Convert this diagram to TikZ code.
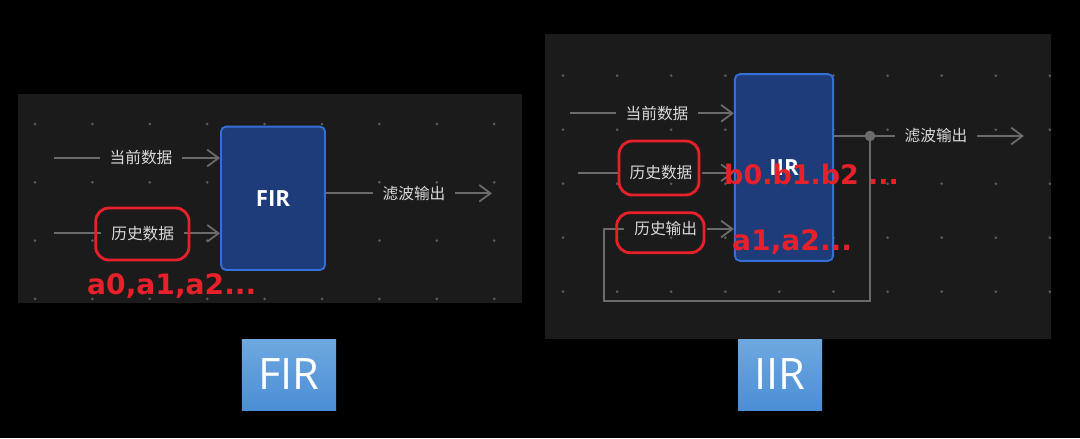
\documentclass[tikz,border=0pt]{standalone}
\usepackage{fontspec}
\setmainfont{Open Sans}
\newfontfamily\cjk{Noto Sans CJK SC}
\newfontfamily\redfont{DejaVu Sans}
\usetikzlibrary{arrows.meta}

\definecolor{panelbg}{HTML}{1B1B1B}
\definecolor{gridgray}{HTML}{5A5A5A}
\definecolor{wiregray}{HTML}{6B6B6B}
\definecolor{labelgray}{HTML}{DADADA}
\definecolor{filterfill}{HTML}{1F3C7A}
\definecolor{filteredge}{HTML}{3470D8}
\definecolor{markred}{HTML}{E8202A}
\definecolor{tagtop}{HTML}{6EA8E0}
\definecolor{tagbottom}{HTML}{4B8ED6}

\tikzset{
  wire/.style={draw=wiregray, line width=1.5pt},
  flow/.style={wire, -{Straight Barb[length=3.4mm,width=5mm]}},
  sig/.style={font=\cjk\fontsize{13.4}{13.4}\selectfont, text=labelgray, inner xsep=2.9mm, inner ysep=1mm},
  filter/.style={draw=filteredge, fill=filterfill, line width=1.6pt, rounded corners=1.5mm,
    text=white, font=\bfseries\fontsize{19}{19}\selectfont},
  redmark/.style={draw=markred, line width=2.4pt, rounded corners=4mm},
  coef/.style={text=markred, font=\redfont\bfseries\fontsize{24}{24}\selectfont, anchor=base west, inner sep=0pt},
  tag/.style={top color=tagtop, bottom color=tagbottom, text=white, font=\fontsize{37}{37}\selectfont, inner sep=0pt},
}

\begin{document}
\begin{tikzpicture}[x=0.03cm, y=-0.03cm]
  \fill[black] (0,0) rectangle (1080,438);
  \useasboundingbox (0,0) rectangle (1080,438);

  % --- FIR panel ---
  \fill[panelbg] (18,94) rectangle (522,303);
  \foreach \i in {0,...,8} {
    \foreach \j in {0,...,3} {
      \fill[gridgray] (35+57.4*\i, 124+58.3*\j) circle (1.5);
    }
  }

  \node[filter, minimum width=3.12cm, minimum height=4.3cm] (fir) at (273,198.3) {FIR};

  % inputs
  \coordinate (fin1) at (54,158);
  \node[sig] (cur1) at (141,158) {当前数据};
  \draw[wire] (fin1) -- (cur1);
  \draw[flow] (cur1) -- (fir.west |- cur1);

  \coordinate (fin2) at (54,233.3);
  \node[sig] (his1) at (142.7,233.3) {历史数据};
  \draw[wire] (fin2) -- (his1);
  \draw[flow] (his1) -- (fir.west |- his1);

  % output
  \node[sig] (out1) at (414,193.3) {滤波输出};
  \coordinate (fout) at (492,193.3);
  \draw[wire] (fir.east |- out1) -- (out1);
  \draw[flow] (out1) -- (fout);

  % marks
  \draw[redmark] (95.7,208) rectangle (189,260);
  \node[coef] (firco) at (87,294) {a0,a1,a2...};

  % --- IIR panel ---
  \fill[panelbg] (545,34) rectangle (1051,339);
  \foreach \i in {0,...,9} {
    \foreach \j in {0,...,4} {
      \fill[gridgray] (563+54.1*\i, 75.7+54*\j) circle (1.5);
    }
  }

  \node[filter, minimum width=2.95cm, minimum height=5.6cm] (iir) at (784,167.5) {IIR};

  % inputs
  \coordinate (iin1) at (570,113.3);
  \node[sig] (cur2) at (657,113.3) {当前数据};
  \draw[wire] (iin1) -- (cur2);
  \draw[flow] (cur2) -- (iir.west |- cur2);

  \coordinate (iin2) at (578,172.7);
  \node[sig] (his2) at (661,172.7) {历史数据};
  \draw[wire] (iin2) -- (his2);
  \draw[flow] (his2) -- (iir.west |- his2);

  \node[sig] (hout) at (665.7,229) {历史输出};
  \draw[flow] (hout) -- (iir.west |- hout);

  % output and feedback
  \coordinate (junc) at (870,136);
  \coordinate (fbk) at (604,300.7);
  \node[sig] (out2) at (936,136) {滤波输出};
  \coordinate (iout) at (1024,136);
  \draw[wire] (iir.east |- junc) -- (junc) -- (out2);
  \draw[flow] (out2) -- (iout);
  \draw[wire] (junc) |- (fbk) |- (hout);
  \fill[wiregray] (junc) circle (5.3);

  % marks
  \draw[redmark] (619,141) rectangle (699,195);
  \draw[redmark] (616.7,212.7) rectangle (704,252.7);
  \node[coef, font=\redfont\bfseries\fontsize{23}{23}\selectfont] (iirb) at (724,184) {b0.b1.b2 ...};
  \node[coef] (iira) at (732,250) {a1,a2...};

  % --- captions ---
  \node[tag, minimum width=2.82cm, minimum height=2.13cm] (firtag) at (289,374.5) {FIR};
  \node[tag, minimum width=2.52cm, minimum height=2.13cm] (iirtag) at (780,374.5) {IIR};
\end{tikzpicture}
\end{document}
